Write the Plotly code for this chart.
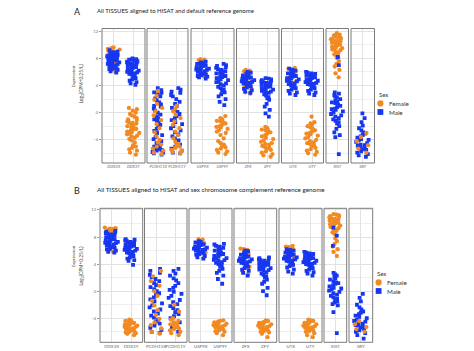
import plotly.graph_objects as go

# ---------------- data ----------------
FACET_GENES = [["DDX3X", "DDX3Y"], ["PCDH11X", "PCDH11Y"], ["USP9X", "USP9Y"],
               ["ZFX", "ZFY"], ["UTX", "UTY"], ["XIST"], ["SRY"]]
Y_TICKS = [12, 8, 4, 0, -4]
TITLE_A = "All TISSUES aligned to HISAT and default reference genome"
TITLE_B = "All TISSUES aligned to HISAT and sex chromosome complement reference genome"

# Panel A (default reference genome)
A_DDX3X_M = [9.2, 9.0, 8.9, 8.8, 8.7, 8.6, 8.6, 8.5, 8.4, 8.3, 8.3, 8.2, 8.1, 8.0, 8.0, 7.9, 7.8, 7.7, 7.7, 7.6,
             7.5, 7.4, 7.3, 7.2, 7.1, 7.0, 6.9, 6.8, 6.7, 6.6, 6.5, 6.4, 6.3, 6.1, 5.9, 8.45, 7.95, 7.45, 6.95, 6.45]
A_DDX3X_F = [9.6, 9.5, 9.4, 9.3, 9.2, 9.1, 9.0, 8.8, 8.5, 8.2, 7.9, 7.5, 7.2, 6.8, 6.5, 6.2, 6.0, 9.35, 8.95, 7.7]
A_DDX3Y_M = [8.0, 7.9, 7.8, 7.8, 7.7, 7.6, 7.5, 7.5, 7.4, 7.3, 7.2, 7.1, 7.0, 6.9, 6.8, 6.7, 6.6, 6.5, 6.4, 6.3,
             6.2, 6.1, 6.0, 5.9, 5.8, 5.7, 5.6, 5.5, 5.3, 5.1, 4.9, 4.7, 4.5, 4.3, 4.1, 6.75, 7.25, 5.95]
A_DDX3Y_F = [0.7, 0.5, 0.3, 0.0, -0.2, -0.4, -0.6, -0.8, -1.0, -1.1, -1.3, -1.4, -1.6, -1.7, -1.9, -2.0, -2.2, -2.3,
             -2.5, -2.6, -2.8, -2.9, -3.1, -3.2, -3.4, -3.5, -3.7, -3.9, -4.1, -4.4, -4.8, -5.0, -5.2, -5.4, -5.6,
             -5.9, -6.2, -1.5, -2.4, -3.0]
A_PCDH11X_M = [3.6, 3.3, 3.0, 2.7, 2.4, 2.1, 1.8, 1.5, 1.2, 0.9, 0.6, 0.3, 0.0, -0.3, -0.6, -0.9, -1.2, -1.5, -1.8,
               -2.1, -2.4, -2.7, -3.0, -3.3, -3.6, -3.9, -4.2, -4.5, -4.8, -5.0, -5.2, -5.4, -5.6, -5.8, -6.0, -6.2,
               -5.1, -5.5, -5.9, 2.9, 1.0, -1.0]
A_PCDH11X_F = [3.2, 2.5, 1.9, 1.3, 0.7, 0.2, -0.4, -1.1, -1.7, -2.3, -2.9, -3.5, -4.0, -4.4, -4.7, -5.0, -5.3, -5.6,
               -5.9, -6.1]
A_PCDH11Y_M = [3.6, 3.4, 3.1, 2.9, 2.6, 2.4, 2.0, 1.6, 1.3, 1.0, 0.7, 0.4, 0.1, -0.2, -0.5, -0.8, -1.1, -1.4, -1.7,
               -2.0, -2.3, -2.6, -2.9, -3.2, -3.5, -3.8, -4.1, -4.4, -4.7, -5.0, -5.3, -5.6, -5.9, -6.0]
A_PCDH11Y_F = [1.0, 0.6, 0.2, -0.3, -0.8, -1.3, -1.8, -2.3, -2.8, -3.3, -3.8, -4.3, -4.6, -4.9, -5.2, -5.5, -5.8,
               -6.0, -5.0, -5.6]
A_USP9X_M = [7.5, 7.4, 7.3, 7.2, 7.1, 7.0, 6.9, 6.8, 6.7, 6.6, 6.5, 6.4, 6.3, 6.2, 6.1, 6.0, 5.9, 5.8, 5.7, 5.6,
             5.5, 5.4, 5.3, 5.2, 5.0, 6.85, 6.35]
A_USP9X_F = [7.9, 7.8, 7.7, 7.6, 7.4, 7.1, 6.8, 6.4, 6.0, 5.6, 5.3, 7.75]
A_USP9Y_M = [7.2, 7.0, 6.9, 6.7, 6.6, 6.4, 6.3, 6.1, 6.0, 5.8, 5.7, 5.5, 5.4, 5.2, 5.1, 4.9, 4.8, 4.6, 4.5, 4.3,
             4.2, 4.0, 3.8, 3.6, 3.4, 3.2, 3.0, 2.7, 2.4, 2.0, 1.6, 1.1, 5.95, 5.25]
A_USP9Y_F = [-0.5, -0.8, -1.0, -1.2, -1.4, -1.6, -1.8, -2.0, -2.2, -2.4, -2.6, -2.8, -3.0, -3.3, -3.8, -4.2, -4.5,
             -4.7, -4.9, -5.1, -5.3, -5.5, -5.7, -5.9, -6.1, -1.3, -2.1]
A_ZFX_M = [6.0, 5.9, 5.8, 5.6, 5.5, 5.4, 5.3, 5.2, 5.1, 5.0, 4.9, 4.8, 4.7, 4.6, 4.5, 4.4, 4.3, 4.2, 4.1, 4.0,
           3.9, 3.7, 3.5, 3.3, 3.1, 2.9, 5.15, 4.55]
A_ZFX_F = [6.3, 6.2, 6.1, 6.0, 5.8, 5.5, 5.0, 4.5, 4.0, 3.5, 3.0, 2.8]
A_ZFY_M = [5.1, 5.0, 4.9, 4.8, 4.7, 4.6, 4.5, 4.4, 4.3, 4.2, 4.1, 4.0, 3.9, 3.8, 3.7, 3.6, 3.5, 3.4, 3.3, 3.2,
           3.1, 3.0, 2.9, 2.7, 2.5, 2.3, 2.1, 1.9, 1.3, 0.9, 0.4, -0.1, -0.6, 4.35, 3.85]
A_ZFY_F = [-2.1, -2.3, -2.5, -2.7, -2.9, -3.1, -3.3, -3.5, -3.7, -3.9, -4.1, -4.3, -4.5, -4.7, -4.9, -5.1, -5.3,
           -5.5, -5.7, -5.9, -6.1, -6.3, -6.5, -4.6, -5.2, -2.6]
A_UTX_M = [6.5, 6.3, 6.2, 6.0, 5.9, 5.8, 5.6, 5.5, 5.4, 5.2, 5.1, 5.0, 4.8, 4.7, 4.6, 4.4, 4.3, 4.2, 4.0, 3.9,
           3.8, 3.6, 3.4, 3.2, 3.0, 2.8, 2.6, 5.3, 4.9]
A_UTX_F = [6.6, 6.5, 6.4, 6.3, 6.2, 6.0, 5.7, 5.2, 4.6, 4.1, 3.6]
A_UTY_M = [6.0, 5.9, 5.8, 5.7, 5.6, 5.5, 5.4, 5.3, 5.2, 5.1, 5.0, 4.9, 4.8, 4.7, 4.6, 4.5, 4.4, 4.3, 4.2, 4.1,
           4.0, 3.8, 3.6, 3.4, 3.2, 3.0, 2.8, 2.6, 5.45, 4.25]
A_UTY_F = [-0.6, -1.4, -1.6, -1.8, -2.0, -2.2, -2.4, -2.6, -2.8, -3.0, -3.2, -3.4, -3.6, -3.8, -4.0, -4.2, -4.4,
           -4.6, -4.8, -5.0, -5.2, -5.4, -5.6, -5.8, -6.0, -6.2, -3.1, -4.5]
A_XIST_F = [11.7, 11.5, 11.4, 11.2, 11.1, 11.0, 10.9, 10.8, 10.7, 10.6, 10.5, 10.4, 10.3, 10.2, 10.1, 10.0, 9.9,
            9.8, 9.7, 9.6, 9.5, 9.4, 9.3, 9.2, 9.0, 8.8, 8.6, 8.4, 8.2, 8.0, 7.6, 7.2, 6.8, 6.3, 5.8, 5.2, 10.85,
            10.45]
A_XIST_M = [8.2, 7.0, 3.0, 2.8, 2.6, 2.4, 2.2, 2.0, 1.8, 1.6, 1.4, 1.2, 1.0, 0.8, 0.6, 0.4, 0.2, 0.0, -0.2, -0.4,
            -0.6, -0.8, -1.0, -1.2, -1.4, -1.6, -2.0, -2.4, -2.9, -3.3, -3.6, -6.1, 1.5, 0.5]
A_SRY_M = [-0.1, -0.8, -1.4, -1.9, -2.3, -2.6, -2.9, -3.1, -3.3, -3.5, -3.7, -3.9, -4.1, -4.3, -4.5, -4.7, -4.9,
           -5.1, -5.3, -5.5, -5.7, -5.9, -6.1, -6.3, -6.5, -4.0, -4.8, -5.4]
A_SRY_F = [-3.0, -3.6, -4.2, -4.8, -5.3, -5.9]

# Panel B (sex chromosome complement reference genome)
B_DDX3X_M = [8.9, 8.8, 8.7, 8.6, 8.5, 8.4, 8.3, 8.2, 8.1, 8.0, 7.9, 7.8, 7.7, 7.6, 7.5, 7.4, 7.3, 7.2, 7.1, 7.0,
             6.9, 6.8, 6.7, 6.6, 6.5, 6.4, 6.3, 6.2, 6.0, 5.8, 5.7, 7.65, 7.15]
B_DDX3X_F = [9.4, 9.3, 9.2, 9.1, 9.0, 8.8, 8.5, 8.1, 7.6, 7.1, 6.6, 6.1, 5.8, 9.25]
B_DDX3Y_M = [7.7, 7.6, 7.5, 7.4, 7.3, 7.2, 7.1, 7.0, 6.9, 6.8, 6.7, 6.6, 6.5, 6.4, 6.3, 6.2, 6.1, 6.0, 5.9, 5.8,
             5.7, 5.6, 5.5, 5.4, 5.2, 5.0, 4.8, 4.6, 4.5, 3.9, 6.85, 6.25]
B_DDX3Y_F = [-4.2, -4.3, -4.4, -4.5, -4.6, -4.7, -4.8, -4.9, -5.0, -5.1, -5.2, -5.3, -5.4, -5.5, -5.6, -5.7, -5.8,
             -5.9, -6.0, -6.1, -6.2, -6.3, -6.5, -4.75, -5.25, -5.75]
B_PCDH11X_M = [3.3, 3.0, 2.7, 2.4, 2.1, 1.8, 1.5, 1.2, 0.9, 0.6, 0.3, 0.0, -0.3, -0.6, -0.9, -1.2, -1.5, -1.8, -2.1,
               -2.4, -2.7, -3.0, -3.3, -3.6, -3.9, -4.2, -4.5, -4.8, -5.1, -5.4, -5.7, -6.0, -6.2]
B_PCDH11X_F = [3.0, 2.2, 1.5, 0.8, 0.0, -0.7, -1.4, -2.1, -2.8, -3.5, -4.1, -4.6, -5.0, -5.5, -6.0, -6.3]
B_PCDH11Y_M = [3.3, 3.0, 2.6, 2.3, 1.9, 1.6, 1.2, 0.8, 0.5, 0.2, -0.1, -0.4, -0.7, -1.0, -1.3, -1.6, -1.9, -2.2,
               -2.5, -2.8, -3.1, -3.4, -3.7, -4.0, -4.6, -5.3, -6.0]
B_PCDH11Y_F = [-4.0, -4.2, -4.4, -4.6, -4.8, -5.0, -5.2, -5.4, -5.6, -5.8, -6.0, -6.2, -6.5, -4.9, -5.5, -3.0, -2.0]
B_USP9X_M = [7.4, 7.3, 7.2, 7.1, 7.0, 6.9, 6.8, 6.7, 6.6, 6.5, 6.4, 6.3, 6.2, 6.1, 6.0, 5.9, 5.8, 5.7, 5.6, 5.5,
             5.4, 5.2, 5.0, 4.8, 6.45, 6.15]
B_USP9X_F = [7.7, 7.6, 7.4, 7.1, 6.7, 6.2, 5.7, 5.2, 4.9]
B_USP9Y_M = [7.0, 6.9, 6.7, 6.6, 6.4, 6.3, 6.1, 6.0, 5.8, 5.7, 5.5, 5.4, 5.2, 5.1, 4.9, 4.8, 4.6, 4.5, 4.3, 4.2,
             4.0, 3.8, 3.6, 3.3, 3.0, 2.7, 2.3, 1.8, 1.1, 5.35, 4.65]
B_USP9Y_F = [-4.3, -4.4, -4.5, -4.6, -4.7, -4.8, -4.9, -5.0, -5.1, -5.2, -5.3, -5.4, -5.5, -5.6, -5.7, -5.8, -5.9,
             -6.0, -6.2, -6.5, -5.05]
B_ZFX_M = [6.0, 5.9, 5.7, 5.6, 5.4, 5.3, 5.2, 5.1, 5.0, 4.9, 4.8, 4.7, 4.6, 4.5, 4.4, 4.3, 4.2, 4.1, 4.0, 3.8,
           3.6, 3.4, 3.2, 3.0, 2.7, 2.3, 4.85, 4.35]
B_ZFX_F = [6.3, 6.2, 6.1, 5.9, 5.5, 5.0, 4.3, 3.6, 2.9, 2.5]
B_ZFY_M = [5.0, 4.9, 4.8, 4.7, 4.6, 4.5, 4.4, 4.3, 4.2, 4.1, 4.0, 3.9, 3.8, 3.7, 3.6, 3.5, 3.4, 3.3, 3.2, 3.1,
           3.0, 2.8, 2.6, 2.4, 2.2, 2.0, 1.7, 1.4, 1.1, 0.5, 0.0, -0.6, 4.15]
B_ZFY_F = [-4.3, -4.4, -4.5, -4.6, -4.7, -4.8, -4.9, -5.0, -5.1, -5.2, -5.3, -5.4, -5.5, -5.6, -5.7, -5.8, -5.9,
           -6.0, -6.1, -6.3, -6.8, -5.15]
B_UTX_M = [6.2, 6.1, 6.0, 5.9, 5.8, 5.7, 5.6, 5.5, 5.4, 5.3, 5.2, 5.1, 5.0, 4.9, 4.8, 4.7, 4.6, 4.5, 4.4, 4.3,
           4.1, 3.9, 3.7, 3.5, 3.2, 2.9, 2.6, 5.05, 4.55]
B_UTX_F = [6.7, 6.6, 6.5, 6.4, 6.3, 6.2, 6.0, 5.6, 5.1, 4.4, 3.8]
B_UTY_M = [5.8, 5.7, 5.6, 5.5, 5.4, 5.3, 5.2, 5.1, 5.0, 4.9, 4.8, 4.7, 4.6, 4.5, 4.4, 4.3, 4.2, 4.1, 4.0, 3.9,
           3.8, 3.6, 3.4, 3.2, 3.0, 2.8, 2.6, 2.3, 4.65, 4.05]
B_UTY_F = [-4.2, -4.3, -4.4, -4.5, -4.6, -4.7, -4.8, -4.9, -5.0, -5.1, -5.2, -5.3, -5.4, -5.5, -5.6, -5.7, -5.8,
           -5.9, -6.0, -6.2, -6.5, -6.8, -5.35]
B_XIST_F = [11.4, 11.3, 11.2, 11.1, 11.0, 10.9, 10.8, 10.7, 10.6, 10.5, 10.4, 10.3, 10.2, 10.1, 10.0, 9.9, 9.8,
            9.7, 9.6, 9.5, 9.3, 9.1, 8.9, 8.7, 8.5, 8.2, 7.8, 7.4, 7.0, 6.6, 6.2, 5.8, 5.2, 10.55, 10.05]
B_XIST_M = [9.4, 8.2, 6.7, 2.7, 2.5, 2.3, 2.1, 1.9, 1.7, 1.5, 1.3, 1.1, 0.9, 0.7, 0.5, 0.3, 0.1, -0.1, -0.3, -0.5,
            -0.7, -0.9, -1.1, -1.3, -1.5, -1.7, -1.9, -2.1, -3.1, -6.2, 1.2, 0.4]
B_SRY_M = [-0.4, -1.0, -1.5, -2.0, -2.4, -2.7, -3.0, -3.2, -3.4, -3.6, -3.8, -4.0, -4.2, -4.4, -4.6, -4.8, -5.0,
           -5.2, -5.4, -5.6, -5.8, -6.0, -6.2, -6.5, -7.0, -4.5, -5.1]
B_SRY_F = [-4.4, -4.9, -5.3, -5.6, -6.0]

# ---------------- layout constants ----------------
W, H = 474, 351
ORANGE = "#F28A22"
BLUE = "#1736F0"
FONT = "Lato"


def fx(x):
    return x / W


def fy(y):
    return 1 - y / H


src = globals()
panels = [
    dict(tag="A", title=TITLE_A, tsize=6.0, prefix="A_",
         xdom=[(102, 145), (147, 188), (191, 234), (236.5, 279), (281.5, 323.5), (326, 348.5), (351, 374.5)],
         ydom=(28.5, 163), yrange=[-7.42, 12.4], title_y=10.5, letter_y=11.5,
         exp_xy=(72.5, 77), log_xy=(80.5, 84), leg_y=94.3, xfont=dict(size=4.0, style="italic")),
    dict(tag="B", title=TITLE_B, tsize=6.3, prefix="B_",
         xdom=[(100, 142.7), (144.5, 187), (189, 232), (234, 276.7), (279, 322), (324, 346.7), (349, 372.7)],
         ydom=(208.3, 342.3), yrange=[-7.55, 12.25], title_y=189.5, letter_y=190.5,
         exp_xy=(72.7, 256.7), log_xy=(80.7, 266), leg_y=273.3, xfont=dict(size=4.4)),
]

fig = go.Figure()
layout = dict(width=W, height=H, margin=dict(l=0, r=0, t=0, b=0), paper_bgcolor="white",
              plot_bgcolor="white", showlegend=False, boxmode="overlay",
              font=dict(family=FONT, color="#333"))
shapes, annotations = [], []
female_on_top = {"PCDH11X", "PCDH11Y", "SRY"}

for p, P in enumerate(panels):
    yname = "y" if p == 0 else "y2"
    ykey = "yaxis" if p == 0 else "yaxis2"
    first_x = "x" if p == 0 else "x8"
    layout[ykey] = dict(domain=[fy(P["ydom"][1]), fy(P["ydom"][0])], range=P["yrange"], anchor=first_x,
                        tickvals=Y_TICKS, ticks="outside", ticklen=2, tickcolor="#999",
                        tickfont=dict(size=4.2, color="#777", family=FONT),
                        showgrid=True, gridcolor="#e2e2e2", gridwidth=0.7, zeroline=False, showline=False,
                        minor=dict(dtick=2, tick0=0, showgrid=True, gridcolor="#efefef", gridwidth=0.5, ticks=""),
                        fixedrange=True)
    for k, genes in enumerate(FACET_GENES):
        n = p * 7 + k + 1
        xname = "x" if n == 1 else f"x{n}"
        xkey = "xaxis" if n == 1 else f"xaxis{n}"
        x0, x1 = P["xdom"][k]
        layout[xkey] = dict(domain=[fx(x0), fx(x1)], type="category", categoryorder="array",
                            categoryarray=genes, range=[-0.6, len(genes) - 0.4], anchor=yname,
                            showgrid=True, gridcolor="#e2e2e2", gridwidth=0.7, zeroline=False, showline=False,
                            ticks="", tickangle=0, tickfont=dict(color="#666", family=FONT, **P["xfont"]),
                            fixedrange=True)
        for g in genes:
            fvals = src[P["prefix"] + g + "_F"]
            mvals = src[P["prefix"] + g + "_M"]
            fem = go.Box(x=[g] * len(fvals), y=fvals, xaxis=xname, yaxis=yname, boxpoints="all", jitter=1,
                         pointpos=0, width=0.72, fillcolor="rgba(0,0,0,0)",
                         line=dict(width=0, color="rgba(0,0,0,0)"),
                         marker=dict(symbol="circle", size=4.3, color=ORANGE, line=dict(width=0)),
                         hoverinfo="y", name="Female")
            mal = go.Box(x=[g] * len(mvals), y=mvals, xaxis=xname, yaxis=yname, boxpoints="all", jitter=1,
                         pointpos=0, width=0.72, fillcolor="rgba(0,0,0,0)",
                         line=dict(width=0, color="rgba(0,0,0,0)"),
                         marker=dict(symbol="square", size=3.8, color=BLUE, line=dict(width=0)),
                         hoverinfo="y", name="Male")
            if g in female_on_top:
                fig.add_trace(mal)
                fig.add_trace(fem)
            else:
                fig.add_trace(fem)
                fig.add_trace(mal)
        # facet border
        shapes.append(dict(type="rect", xref=f"{xname} domain", yref=f"{yname} domain", x0=0, x1=1, y0=0, y1=1,
                           line=dict(color="#7a7a7a", width=1), layer="above"))

    # titles
    annotations.append(dict(text=P["tag"], x=fx(77), y=fy(P["letter_y"]), xref="paper", yref="paper",
                            showarrow=False, xanchor="center", yanchor="middle",
                            font=dict(size=9, color="#222", family=FONT)))
    annotations.append(dict(text=P["title"], x=fx(94.5), y=fy(P["title_y"]), xref="paper", yref="paper",
                            showarrow=False, xanchor="left", yanchor="middle",
                            font=dict(size=P["tsize"], color="#222", family=FONT)))
    # y axis title (two lines)
    annotations.append(dict(text="Expression", x=fx(P["exp_xy"][0]), y=fy(P["exp_xy"][1]), xref="paper",
                            yref="paper", showarrow=False, textangle=-90, xanchor="center", yanchor="middle",
                            font=dict(size=4.6, color="#444", family=FONT)))
    annotations.append(dict(text="Log<sub>2</sub>(CPM+0.25/L)", x=fx(P["log_xy"][0]), y=fy(P["log_xy"][1]),
                            xref="paper", yref="paper", showarrow=False, textangle=-90, xanchor="center",
                            yanchor="middle", font=dict(size=4.8, color="#444", family=FONT)))
    # legend
    lx = P["xdom"][6][1] + 2.5
    ly = P["leg_y"]
    annotations.append(dict(text="Sex", x=fx(lx - 0.5), y=fy(ly), xref="paper", yref="paper", showarrow=False,
                            xanchor="left", yanchor="middle", font=dict(size=6, color="#333", family=FONT)))
    shapes.append(dict(type="circle", xref="paper", yref="paper", x0=fx(lx + 0.3), x1=fx(lx + 6.5),
                       y0=fy(ly + 12.2), y1=fy(ly + 6.0), fillcolor=ORANGE, line=dict(width=0)))
    annotations.append(dict(text="Female", x=fx(lx + 9.5), y=fy(ly + 9.0), xref="paper", yref="paper",
                            showarrow=False, xanchor="left", yanchor="middle",
                            font=dict(size=6.3, color="#333", family=FONT)))
    shapes.append(dict(type="rect", xref="paper", yref="paper", x0=fx(lx + 0.5), x1=fx(lx + 6.3),
                       y0=fy(ly + 20.6), y1=fy(ly + 14.8), fillcolor=BLUE, line=dict(width=0)))
    annotations.append(dict(text="Male", x=fx(lx + 9.5), y=fy(ly + 17.8), xref="paper", yref="paper",
                            showarrow=False, xanchor="left", yanchor="middle",
                            font=dict(size=6.3, color="#333", family=FONT)))

layout["shapes"] = shapes
layout["annotations"] = annotations
fig.update_layout(**layout)
fig.write_html("out.html")
